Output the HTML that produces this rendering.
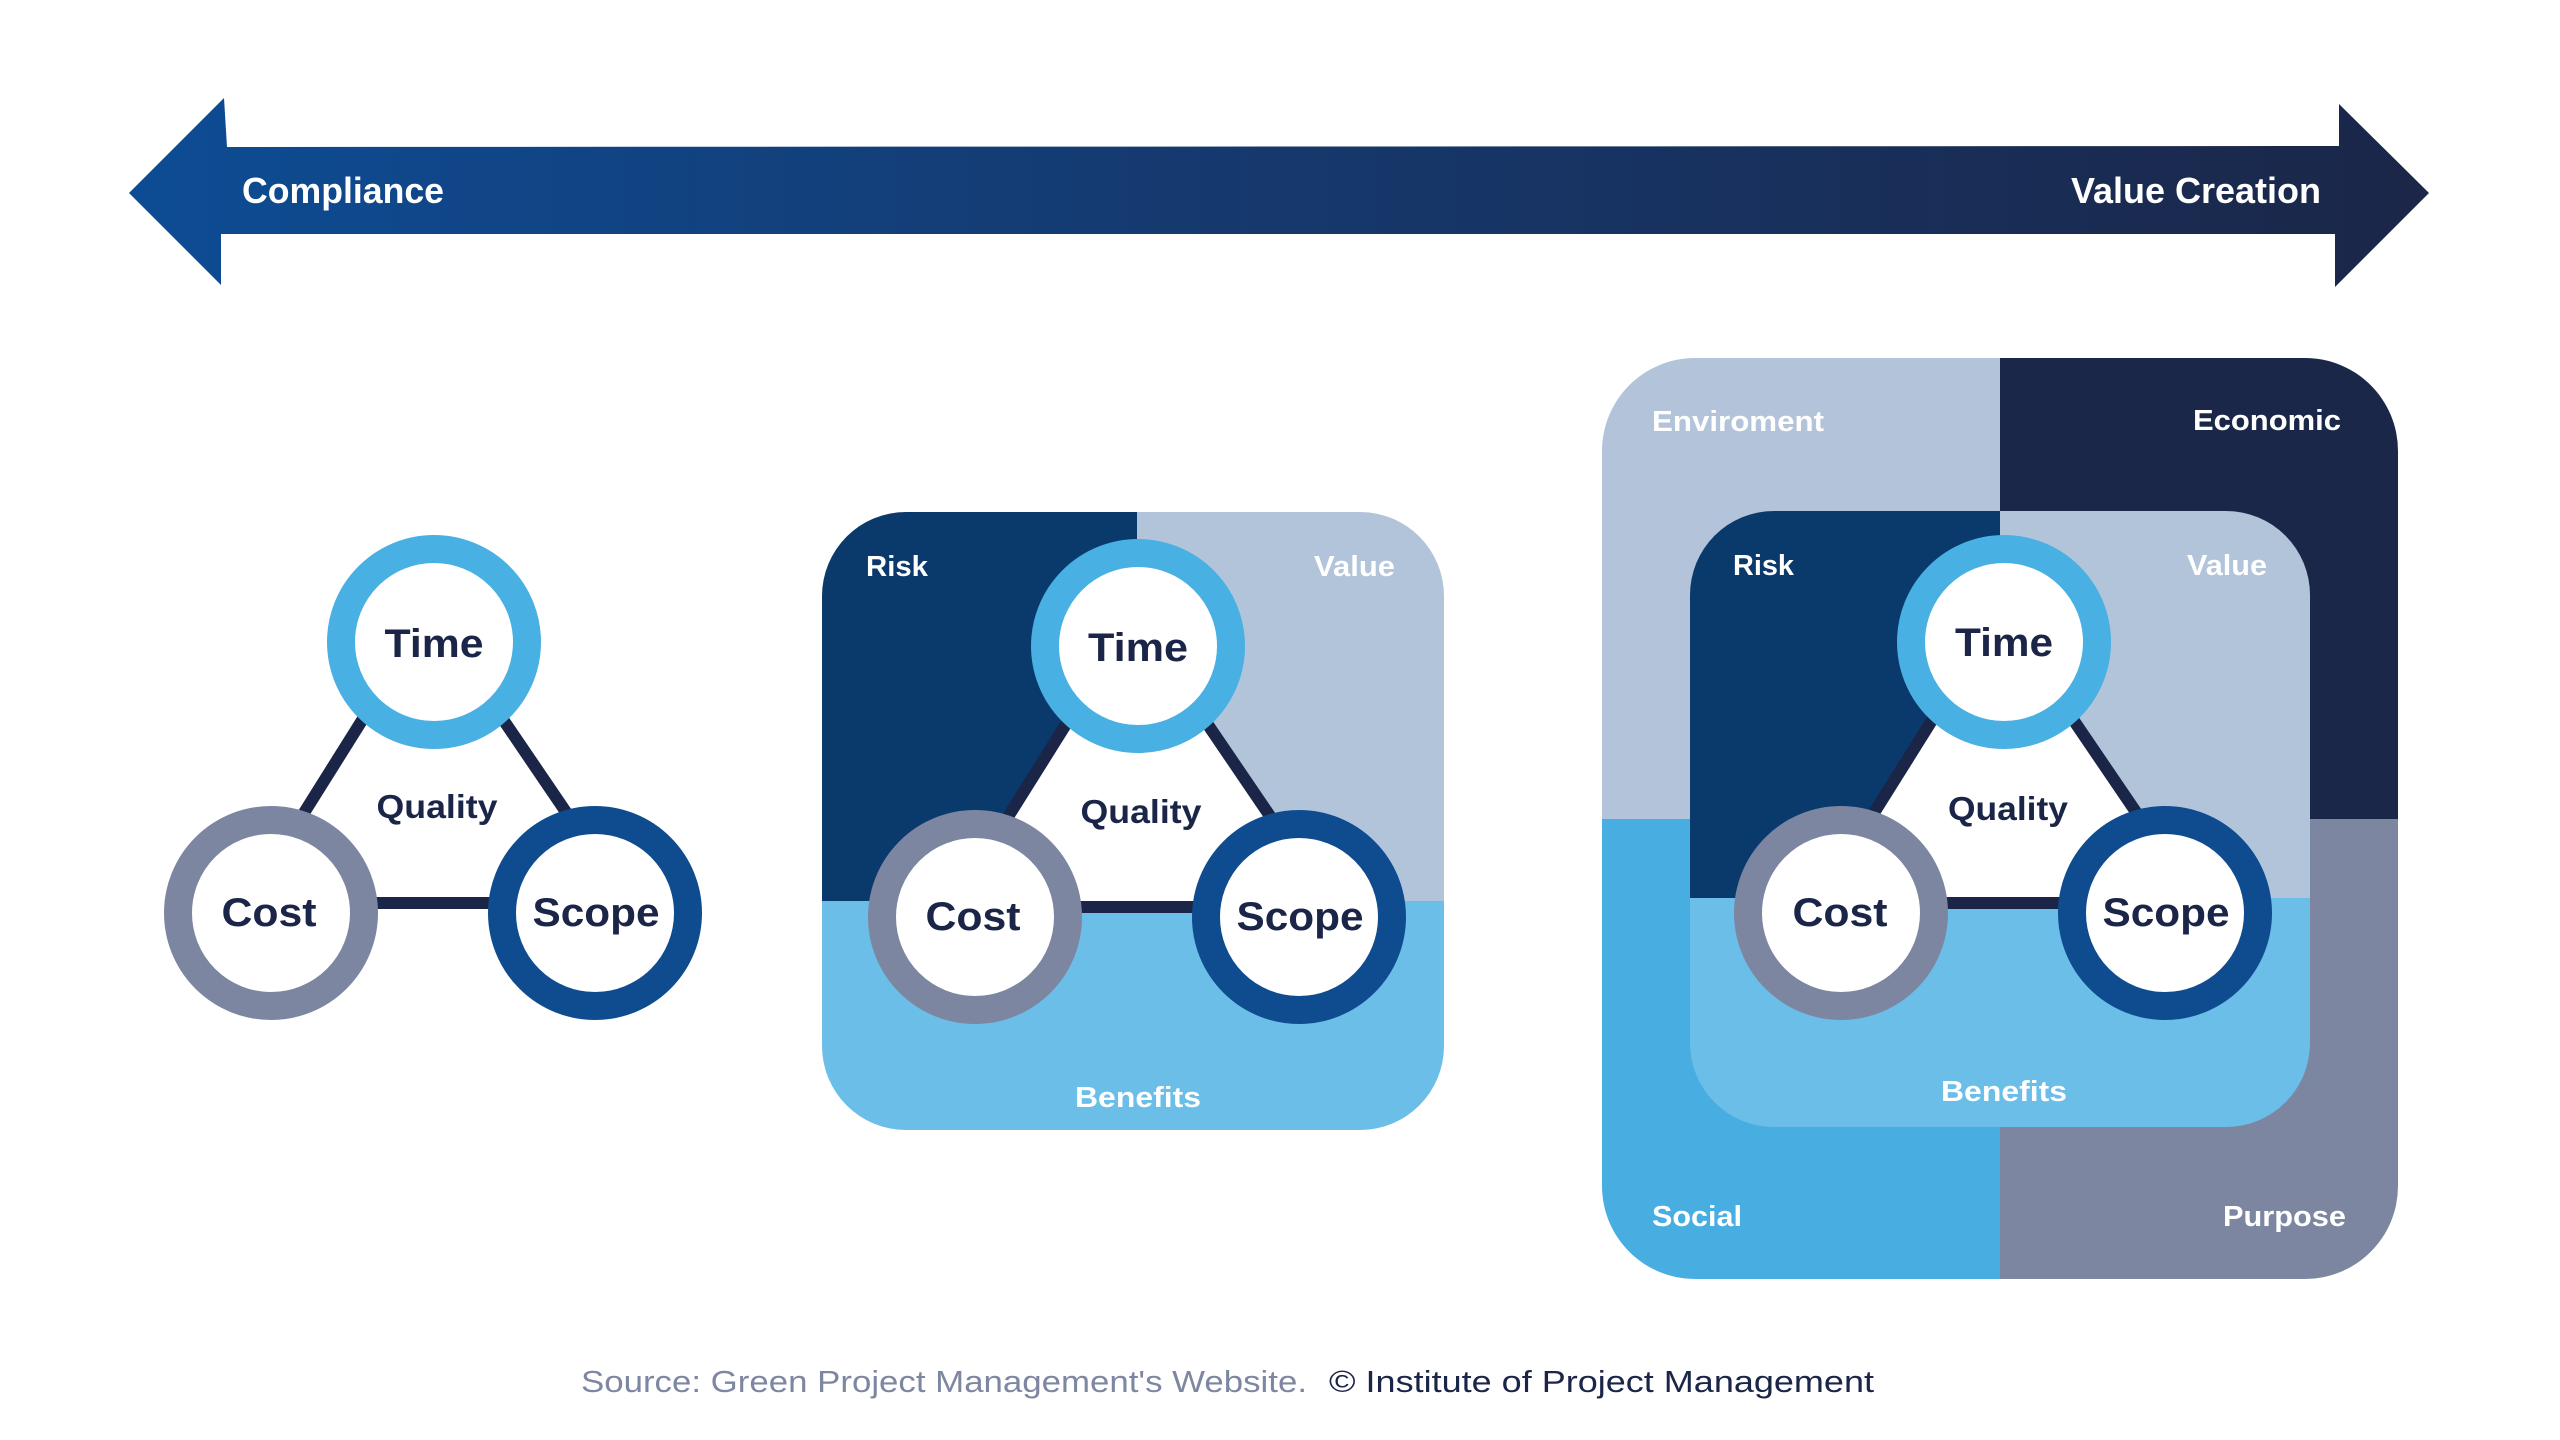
<!DOCTYPE html>
<html>
<head>
<meta charset="utf-8">
<style>
  html,body{margin:0;padding:0;background:#ffffff;}
  body{width:2560px;height:1440px;overflow:hidden;}
  svg{display:block;}
  text{font-family:"Liberation Sans", "DejaVu Sans", sans-serif;}
</style>
</head>
<body>
<svg width="2560" height="1440" viewBox="0 0 2560 1440" xmlns="http://www.w3.org/2000/svg">
  <defs>
    <linearGradient id="arrowGrad" x1="129" y1="0" x2="2429" y2="0" gradientUnits="userSpaceOnUse">
      <stop offset="0" stop-color="#0d4c94"/>
      <stop offset="0.45" stop-color="#153a70"/>
      <stop offset="1" stop-color="#1b2648"/>
    </linearGradient>
    <clipPath id="midClip">
      <rect x="822" y="512" width="622" height="618" rx="84" ry="84"/>
    </clipPath>
    <clipPath id="outerClip">
      <rect x="1602" y="358" width="796" height="921" rx="93" ry="93"/>
    </clipPath>
    <clipPath id="innerClip">
      <rect x="1690" y="511" width="620" height="616" rx="84" ry="84"/>
    </clipPath>
  </defs>

  <!-- Double arrow -->
  <polygon fill="url(#arrowGrad)" points="129,193 224,98 227,147 2339,146 2339,104 2429,193 2335,287 2335,234 221,234 221,285"/>
  <text x="242" y="203" font-size="36" font-weight="700" fill="#ffffff" textLength="202" lengthAdjust="spacingAndGlyphs">Compliance</text>
  <text x="2071" y="203" font-size="36" font-weight="700" fill="#ffffff" textLength="250" lengthAdjust="spacingAndGlyphs">Value Creation</text>

  <!-- Middle box -->
  <g clip-path="url(#midClip)">
    <rect x="822" y="512" width="315" height="389" fill="#0a396c"/>
    <rect x="1137" y="512" width="307" height="389" fill="#b2c4da"/>
    <rect x="822" y="901" width="622" height="229" fill="#6bbee8"/>
  </g>
  <text x="866" y="576" font-size="29" font-weight="700" fill="#ffffff" textLength="62" lengthAdjust="spacingAndGlyphs">Risk</text>
  <text x="1314" y="576" font-size="29" font-weight="700" fill="#ffffff" textLength="81" lengthAdjust="spacingAndGlyphs">Value</text>
  <text x="1075" y="1107" font-size="29" font-weight="700" fill="#ffffff" textLength="126" lengthAdjust="spacingAndGlyphs">Benefits</text>

  <!-- Right outer box -->
  <g clip-path="url(#outerClip)">
    <rect x="1602" y="358" width="398" height="461" fill="#b3c4da"/>
    <rect x="2000" y="358" width="398" height="461" fill="#1b2748"/>
    <rect x="1602" y="819" width="398" height="460" fill="#48aee1"/>
    <rect x="2000" y="819" width="398" height="460" fill="#7d86a0"/>
  </g>
  <g clip-path="url(#innerClip)">
    <rect x="1690" y="511" width="310" height="387" fill="#0a396c"/>
    <rect x="2000" y="511" width="310" height="387" fill="#b2c4da"/>
    <rect x="1690" y="898" width="620" height="229" fill="#6bbee8"/>
  </g>
  <text x="1652" y="431" font-size="29" font-weight="700" fill="#ffffff" textLength="172" lengthAdjust="spacingAndGlyphs">Enviroment</text>
  <text x="2193" y="430" font-size="29" font-weight="700" fill="#ffffff" textLength="148" lengthAdjust="spacingAndGlyphs">Economic</text>
  <text x="1733" y="575" font-size="29" font-weight="700" fill="#ffffff" textLength="61" lengthAdjust="spacingAndGlyphs">Risk</text>
  <text x="2187" y="575" font-size="29" font-weight="700" fill="#ffffff" textLength="80" lengthAdjust="spacingAndGlyphs">Value</text>
  <text x="1941" y="1101" font-size="29" font-weight="700" fill="#ffffff" textLength="126" lengthAdjust="spacingAndGlyphs">Benefits</text>
  <text x="1652" y="1226" font-size="29" font-weight="700" fill="#ffffff" textLength="90" lengthAdjust="spacingAndGlyphs">Social</text>
  <text x="2223" y="1226" font-size="29" font-weight="700" fill="#ffffff" textLength="123" lengthAdjust="spacingAndGlyphs">Purpose</text>

  <!-- Triangle 1 -->
  <g>
    <polygon points="430,612 248,903 628,903" fill="#ffffff"/>
    <g stroke="#1a2547" stroke-width="12" stroke-linecap="butt">
      <line x1="381" y1="690" x2="287" y2="840"/>
      <line x1="483" y1="690" x2="585" y2="840"/>
      <line x1="355" y1="903" x2="510" y2="903"/>
    </g>
    <circle cx="434" cy="642" r="93" fill="#ffffff" stroke="#48b0e2" stroke-width="28"/>
    <circle cx="271" cy="913" r="93" fill="#ffffff" stroke="#7c86a1" stroke-width="28"/>
    <circle cx="595" cy="913" r="93" fill="#ffffff" stroke="#0e4c8f" stroke-width="28"/>
    <g font-weight="700" fill="#1a2547">
      <text x="434" y="657" font-size="40" text-anchor="middle" textLength="99" lengthAdjust="spacingAndGlyphs">Time</text>
      <text x="269" y="926" font-size="40" text-anchor="middle" textLength="95" lengthAdjust="spacingAndGlyphs">Cost</text>
      <text x="596" y="926" font-size="40" text-anchor="middle" textLength="127" lengthAdjust="spacingAndGlyphs">Scope</text>
      <text x="437" y="818" font-size="33" text-anchor="middle" textLength="121" lengthAdjust="spacingAndGlyphs">Quality</text>
    </g>
  </g>

  <!-- Triangle 2 (middle) -->
  <g transform="translate(704,4)">
    <polygon points="430,612 248,903 628,903" fill="#ffffff"/>
    <g stroke="#1a2547" stroke-width="12" stroke-linecap="butt">
      <line x1="381" y1="690" x2="287" y2="840"/>
      <line x1="483" y1="690" x2="585" y2="840"/>
      <line x1="355" y1="903" x2="510" y2="903"/>
    </g>
    <circle cx="434" cy="642" r="93" fill="#ffffff" stroke="#48b0e2" stroke-width="28"/>
    <circle cx="271" cy="913" r="93" fill="#ffffff" stroke="#7c86a1" stroke-width="28"/>
    <circle cx="595" cy="913" r="93" fill="#ffffff" stroke="#0e4c8f" stroke-width="28"/>
    <g font-weight="700" fill="#1a2547">
      <text x="434" y="657" font-size="40" text-anchor="middle" textLength="100" lengthAdjust="spacingAndGlyphs">Time</text>
      <text x="269" y="926" font-size="40" text-anchor="middle" textLength="95" lengthAdjust="spacingAndGlyphs">Cost</text>
      <text x="596" y="926" font-size="40" text-anchor="middle" textLength="127" lengthAdjust="spacingAndGlyphs">Scope</text>
      <text x="437" y="819" font-size="33" text-anchor="middle" textLength="121" lengthAdjust="spacingAndGlyphs">Quality</text>
    </g>
  </g>

  <!-- Triangle 3 (right) -->
  <g transform="translate(1570,0)">
    <polygon points="430,612 248,903 628,903" fill="#ffffff"/>
    <g stroke="#1a2547" stroke-width="12" stroke-linecap="butt">
      <line x1="381" y1="690" x2="287" y2="840"/>
      <line x1="483" y1="690" x2="585" y2="840"/>
      <line x1="355" y1="903" x2="510" y2="903"/>
    </g>
    <circle cx="434" cy="642" r="93" fill="#ffffff" stroke="#48b0e2" stroke-width="28"/>
    <circle cx="271" cy="913" r="93" fill="#ffffff" stroke="#7c86a1" stroke-width="28"/>
    <circle cx="595" cy="913" r="93" fill="#ffffff" stroke="#0e4c8f" stroke-width="28"/>
    <g font-weight="700" fill="#1a2547">
      <text x="434" y="656" font-size="40" text-anchor="middle" textLength="98" lengthAdjust="spacingAndGlyphs">Time</text>
      <text x="270" y="926" font-size="40" text-anchor="middle" textLength="95" lengthAdjust="spacingAndGlyphs">Cost</text>
      <text x="596" y="926" font-size="40" text-anchor="middle" textLength="127" lengthAdjust="spacingAndGlyphs">Scope</text>
      <text x="438" y="820" font-size="33" text-anchor="middle" textLength="120" lengthAdjust="spacingAndGlyphs">Quality</text>
    </g>
  </g>

  <!-- Footer -->
  <text x="581" y="1392" font-size="31" fill="#7e87a2" textLength="726" lengthAdjust="spacingAndGlyphs">Source: Green Project Management's Website.</text>
  <text x="1329" y="1392" font-size="31" fill="#1b2548" textLength="545" lengthAdjust="spacingAndGlyphs">© Institute of Project Management</text>
</svg>
</body>
</html>
